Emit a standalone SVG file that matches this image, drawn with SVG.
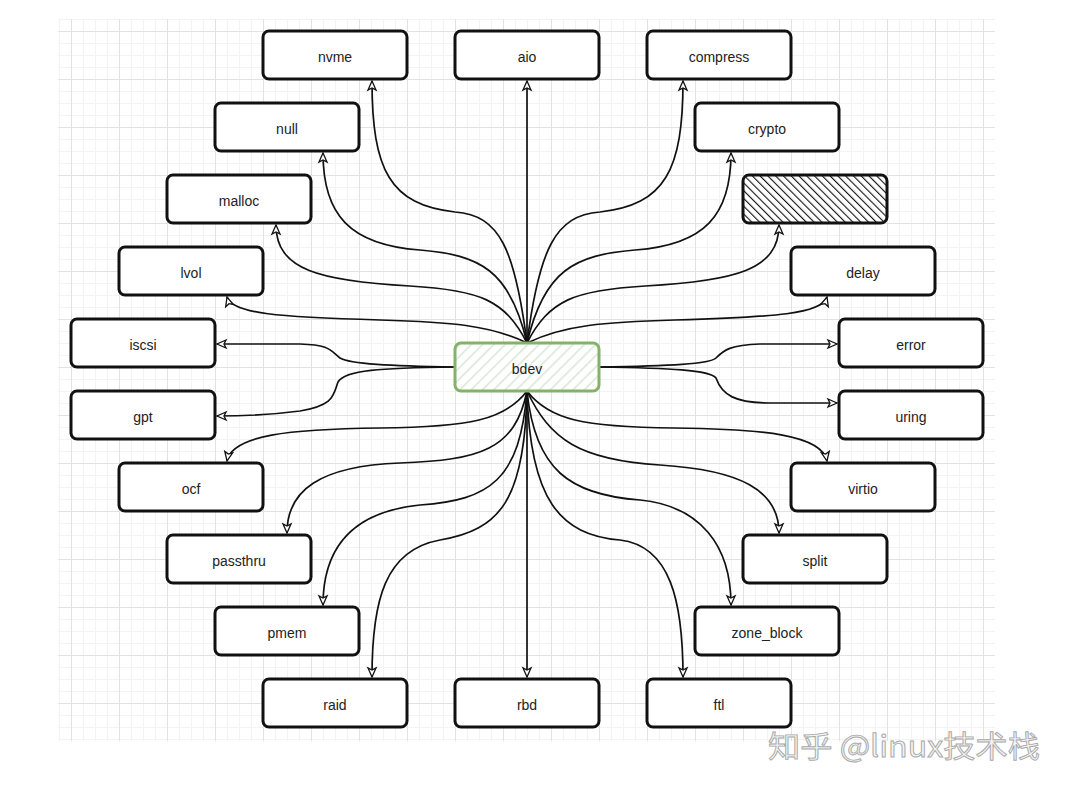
<svg xmlns="http://www.w3.org/2000/svg" width="1067" height="790" viewBox="0 0 1067 790">
<defs>
<pattern id="grid" patternUnits="userSpaceOnUse" x="71" y="31" width="48" height="48">
<path d="M12.5,0V48M24.5,0V48M36.5,0V48M0,12.5H48M0,24.5H48M0,36.5H48" stroke="#f3f3f3" stroke-width="1" fill="none"/>
<path d="M0.5,0V48M0,0.5H48" stroke="#e2e2e2" stroke-width="1" fill="none"/>
</pattern>
<pattern id="greenHatch" patternUnits="userSpaceOnUse" width="8" height="8" patternTransform="rotate(45)">
<rect width="8" height="8" fill="#ffffff"/>
<line x1="0" y1="0" x2="0" y2="8" stroke="#d5e8d4" stroke-width="3"/>
</pattern>
<pattern id="blackHatch" patternUnits="userSpaceOnUse" width="5.5" height="5.5" patternTransform="rotate(-45)">
<rect width="5.5" height="5.5" fill="#ffffff"/>
<line x1="0" y1="0" x2="0" y2="5.5" stroke="#111" stroke-width="2.2"/>
</pattern>
<marker id="arr" markerUnits="userSpaceOnUse" markerWidth="12" markerHeight="12" viewBox="0 0 12 12" refX="11" refY="6" orient="auto">
<path d="M2,2 L11,6 L2,10 L4,6 Z" fill="#fff" stroke="#111" stroke-width="1.3" stroke-linejoin="miter"/>
</marker>
</defs>
<style>
.box{fill:#fff;stroke:#111;stroke-width:3;}
.lbl{font-family:"Liberation Sans",Arial,sans-serif;font-size:14px;fill:#222;text-anchor:middle;}
.edge{fill:none;stroke:#111;stroke-width:1.7;marker-end:url(#arr);}
</style>
<rect x="0" y="0" width="1067" height="790" fill="#fff"/>
<rect x="58" y="19" width="937" height="722" fill="url(#grid)"/>

<g id="connectors">
<path class="edge" d="M527,343 C515,250 500,215 455,212 C390,205 372,170 372,81"/>
<path class="edge" d="M527,343 V81"/>
<path class="edge" d="M527,343 C539,250 555,215 600,212 C665,205 683,170 683,81"/>
<path class="edge" d="M527,343 C510,270 480,255 420,250 C350,245 323,215 323,153"/>
<path class="edge" d="M527,343 C544,270 575,255 635,250 C705,245 731,215 731,153"/>
<path class="edge" d="M527,343 C505,300 480,290 410,286 C320,281 276,270 276,225"/>
<path class="edge" d="M527,343 C549,300 575,290 645,286 C735,281 779,270 779,225"/>
<path class="edge" d="M527,343 C490,325 450,322 380,320 C280,317 232,314 227,297"/>
<path class="edge" d="M527,343 C564,325 605,322 675,320 C775,317 822,314 827,297"/>
<path class="edge" d="M455,367 C390,366 350,364 340,358 C330,350 330,345 300,344 L217,344"/>
<path class="edge" d="M455,367 C380,368 345,370 338,382 C333,395 335,405 300,411 C270,415 240,416 217,416"/>
<path class="edge" d="M599,367 C670,366 710,364 716,358 C724,350 730,345 760,344 L837,344"/>
<path class="edge" d="M599,367 C670,368 710,370 716,378 C722,395 735,403 770,403 L837,403"/>
<path class="edge" d="M527,391 C505,420 470,427 380,428 C290,429 232,435 227,461"/>
<path class="edge" d="M527,391 C549,420 584,427 674,428 C764,429 822,435 827,461"/>
<path class="edge" d="M527,391 C515,450 480,460 400,463 C320,466 287,490 287,533"/>
<path class="edge" d="M527,391 C550,440 580,460 660,465 C740,470 779,490 779,533"/>
<path class="edge" d="M527,391 C520,480 490,500 420,505 C350,512 323,550 323,605"/>
<path class="edge" d="M527,391 C535,470 570,495 640,500 C700,506 731,545 731,605"/>
<path class="edge" d="M527,391 C525,500 500,530 440,540 C385,550 372,600 372,677"/>
<path class="edge" d="M527,391 V677"/>
<path class="edge" d="M527,391 C530,500 560,535 620,540 C670,546 683,600 683,677"/>
</g>

<g id="node-nvme"><rect class="box" x="263" y="31" width="144" height="48" rx="6"/><text class="lbl" x="335" y="62">nvme</text></g>
<g id="node-aio"><rect class="box" x="455" y="31" width="144" height="48" rx="6"/><text class="lbl" x="527" y="62">aio</text></g>
<g id="node-compress"><rect class="box" x="647" y="31" width="144" height="48" rx="6"/><text class="lbl" x="719" y="62">compress</text></g>
<g id="node-null"><rect class="box" x="215" y="103" width="144" height="48" rx="6"/><text class="lbl" x="287" y="134">null</text></g>
<g id="node-crypto"><rect class="box" x="695" y="103" width="144" height="48" rx="6"/><text class="lbl" x="767" y="134">crypto</text></g>
<g id="node-malloc"><rect class="box" x="167" y="175" width="144" height="48" rx="6"/><text class="lbl" x="239" y="206">malloc</text></g>
<g id="node-hatched"><rect x="743" y="175" width="144" height="48" rx="6" fill="url(#blackHatch)" stroke="#111" stroke-width="3"/></g>
<g id="node-lvol"><rect class="box" x="119" y="247" width="144" height="48" rx="6"/><text class="lbl" x="191" y="278">lvol</text></g>
<g id="node-delay"><rect class="box" x="791" y="247" width="144" height="48" rx="6"/><text class="lbl" x="863" y="278">delay</text></g>
<g id="node-iscsi"><rect class="box" x="71" y="319" width="144" height="48" rx="6"/><text class="lbl" x="143" y="350">iscsi</text></g>
<g id="node-error"><rect class="box" x="839" y="319" width="144" height="48" rx="6"/><text class="lbl" x="911" y="350">error</text></g>
<g id="node-bdev"><rect x="455" y="343" width="144" height="48" rx="6" fill="url(#greenHatch)" stroke="#82b366" stroke-width="3"/><text class="lbl" x="527" y="374">bdev</text></g>
<g id="node-gpt"><rect class="box" x="71" y="391" width="144" height="48" rx="6"/><text class="lbl" x="143" y="422">gpt</text></g>
<g id="node-uring"><rect class="box" x="839" y="391" width="144" height="48" rx="6"/><text class="lbl" x="911" y="422">uring</text></g>
<g id="node-ocf"><rect class="box" x="119" y="463" width="144" height="48" rx="6"/><text class="lbl" x="191" y="494">ocf</text></g>
<g id="node-virtio"><rect class="box" x="791" y="463" width="144" height="48" rx="6"/><text class="lbl" x="863" y="494">virtio</text></g>
<g id="node-passthru"><rect class="box" x="167" y="535" width="144" height="48" rx="6"/><text class="lbl" x="239" y="566">passthru</text></g>
<g id="node-split"><rect class="box" x="743" y="535" width="144" height="48" rx="6"/><text class="lbl" x="815" y="566">split</text></g>
<g id="node-pmem"><rect class="box" x="215" y="607" width="144" height="48" rx="6"/><text class="lbl" x="287" y="638">pmem</text></g>
<g id="node-zone_block"><rect class="box" x="695" y="607" width="144" height="48" rx="6"/><text class="lbl" x="767" y="638">zone_block</text></g>
<g id="node-raid"><rect class="box" x="263" y="679" width="144" height="48" rx="6"/><text class="lbl" x="335" y="710">raid</text></g>
<g id="node-rbd"><rect class="box" x="455" y="679" width="144" height="48" rx="6"/><text class="lbl" x="527" y="710">rbd</text></g>
<g id="node-ftl"><rect class="box" x="647" y="679" width="144" height="48" rx="6"/><text class="lbl" x="719" y="710">ftl</text></g>

<text x="768" y="757" font-family="'Noto Sans CJK SC','Liberation Sans',sans-serif" font-size="30" fill="#f4f4f4" stroke="#a8a8a8" stroke-width="0.9" textLength="272" lengthAdjust="spacingAndGlyphs">知乎 @linux技术栈</text>
</svg>
